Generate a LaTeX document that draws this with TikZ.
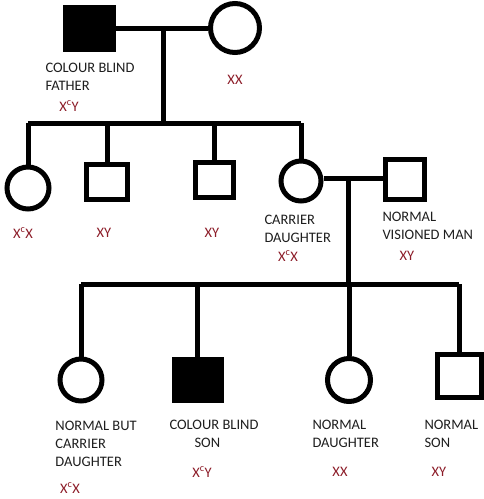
\documentclass[tikz,border=0pt]{standalone}
\usepackage{fontspec}
\setmainfont{Carlito}
\definecolor{geno}{RGB}{140,28,40}
\definecolor{txt}{RGB}{30,30,30}
\begin{document}
\begin{tikzpicture}[x=1pt,y=-1pt,
  line width=5pt,
  male/.style={draw,rectangle,inner sep=0pt},
  affected/.style={male,fill=black},
  female/.style={draw,circle,inner sep=0pt},
  lbl/.style={font=\fontsize{14.5}{18}\selectfont,text=txt,align=left,anchor=west,inner sep=0pt},
  gt/.style={font=\fontsize{14.5}{18}\selectfont,text=geno,inner sep=0pt}]
\useasboundingbox (0,0) rectangle (484,499);
% generation I
\node[affected,minimum width=48pt,minimum height=42pt] (father) at (89.5,28) {};
\node[female,minimum size=49pt] (mother) at (235,28) {};
\coordinate (m1) at (163,28);
\coordinate (s1) at (163,123);
\draw (father) -- (mother);
\draw (m1) -- (s1);
% generation II
\node[female,minimum size=42pt] (c1) at (28,188) {};
\node[male,minimum width=41pt,minimum height=35pt] (c2) at (107,182) {};
\node[male,minimum width=38pt,minimum height=35pt] (c3) at (214,180) {};
\node[female,minimum size=40pt] (c4) at (301,181) {};
\node[male,minimum width=39pt,minimum height=40pt] (hus) at (405,179.5) {};
\coordinate (sa) at (28,123);
\coordinate (sb) at (301,123);
\draw (sa) -- (sb);
\draw (c1 |- s1) -- (c1);
\draw (c2 |- s1) -- (c2);
\draw (c3 |- s1) -- (c3);
\draw (c4 |- s1) -- (c4);
\coordinate (m2) at (348,178);
\draw (c4.east |- m2) -- (hus.west |- m2);
\coordinate (s2) at (348,284);
\draw (m2) -- (s2);
% generation III
\node[female,minimum size=42pt] (g1) at (81,380) {};
\node[affected,minimum width=47pt,minimum height=41pt] (g2) at (197.5,380) {};
\node[female,minimum size=43pt] (g3) at (349,380) {};
\node[male,minimum width=44pt,minimum height=43pt] (g4) at (459,376) {};
\coordinate (ta) at (81,284);
\coordinate (tb) at (459,284);
\draw (ta) -- (tb);
\draw (g1 |- s2) -- (g1);
\draw (g2 |- s2) -- (g2);
\draw (g3 |- s2) -- (g3);
\draw (g4 |- s2) -- (g4);
% labels
\node[lbl] (lf) at (43,77) {COLOUR BLIND\\FATHER};
\node[gt] (gf) at (69,106) {X\textsuperscript{c}Y};
\node[gt] (gm) at (235,80) {XX};
\node[gt] (gc1) at (23,233) {X\textsuperscript{c}X};
\node[gt] (gc2) at (104,233) {XY};
\node[gt] (gc3) at (212,233) {XY};
\node[lbl] (lc4) at (262,228.5) {CARRIER\\DAUGHTER};
\node[gt] (gc4) at (288,256) {X\textsuperscript{c}X};
\node[lbl] (lh) at (380,225.5) {NORMAL\\VISIONED MAN};
\node[gt] (gh) at (407,256) {XY};
\node[lbl] (lg1) at (53,443.5) {NORMAL BUT\\CARRIER\\DAUGHTER};
\node[gt] (gg1) at (70,488) {X\textsuperscript{c}X};
\node[lbl] (lg2a) at (167,425) {COLOUR BLIND};
\node[lbl] (lg2b) at (192,443) {SON};
\node[gt] (gg2) at (202,472) {X\textsuperscript{c}Y};
\node[lbl] (lg3) at (310,434) {NORMAL\\DAUGHTER};
\node[gt] (gg3) at (340,472) {XX};
\node[lbl] (lg4) at (422,434) {NORMAL\\SON};
\node[gt] (gg4) at (439,472) {XY};
\end{tikzpicture}
\end{document}
